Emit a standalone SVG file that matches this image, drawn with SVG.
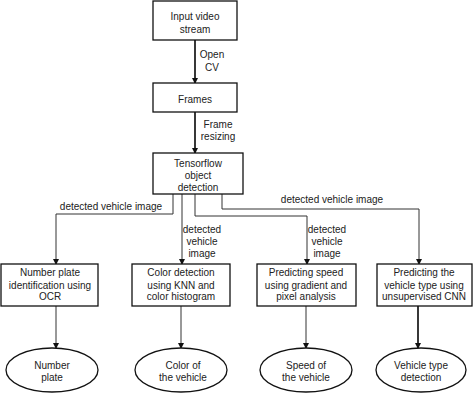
<svg xmlns="http://www.w3.org/2000/svg" width="474" height="411" viewBox="0 0 474 411">
<style>
.box{fill:#fff;stroke:#111;stroke-width:1.3}
.t{font-family:"Liberation Sans",Arial,sans-serif;font-size:10px;fill:#222;text-anchor:middle}
.c{fill:none;stroke:#333;stroke-width:1}
.ct{fill:none;stroke:#222;stroke-width:1.8}
</style>
<defs>
<marker id="ah" markerWidth="6" markerHeight="6" refX="5" refY="3" orient="auto" markerUnits="userSpaceOnUse">
<path d="M0,0 L6,3 L0,6 Z" fill="#111"/>
</marker>
</defs>
<rect width="474" height="411" fill="#fff"/>
<g id="connectors">
<path class="ct" d="M195,40 V83" marker-end="url(#ah)"/>
<path class="ct" d="M195,112 V153" marker-end="url(#ah)"/>
<path class="c" d="M173,194 V214 H56 V264" marker-end="url(#ah)"/>
<path class="c" d="M182,194 V264" marker-end="url(#ah)"/>
<path class="c" d="M195,194 V216 H307 V264" marker-end="url(#ah)"/>
<path class="c" d="M222,194 V209 H419 V264" marker-end="url(#ah)"/>
<path class="c" d="M56,306 V348" marker-end="url(#ah)"/>
<path class="c" d="M181,306 V348" marker-end="url(#ah)"/>
<path class="c" d="M306,306 V348" marker-end="url(#ah)"/>
<path class="ct" d="M418,306 V348" marker-end="url(#ah)"/>
<text class="t" x="212" y="57.5">Open</text>
<text class="t" x="212" y="70.5">CV</text>
<text class="t" x="218" y="127.5">Frame</text>
<text class="t" x="218" y="139.5">resizing</text>
<text class="t" x="111" y="209.5">detected vehicle image</text>
<text class="t" x="332" y="202.5">detected vehicle image</text>
<text class="t" x="202" y="232.5">detected</text>
<text class="t" x="202" y="244.5">vehicle</text>
<text class="t" x="202" y="256.5">image</text>
<text class="t" x="327" y="232.5">detected</text>
<text class="t" x="327" y="244.5">vehicle</text>
<text class="t" x="327" y="256.5">image</text>
</g>
<g id="input">
<rect class="box" x="153" y="1" width="84" height="39"/>
<text class="t" x="195" y="19.5">Input video</text>
<text class="t" x="195" y="32.5">stream</text>
</g>
<g id="frames">
<rect class="box" x="153" y="83" width="84" height="29"/>
<text class="t" x="195" y="102.5">Frames</text>
</g>
<g id="tensorflow">
<rect class="box" x="153" y="153" width="90" height="41"/>
<text class="t" x="198" y="166.5">Tensorflow</text>
<text class="t" x="198" y="178.5">object</text>
<text class="t" x="198" y="190.5">detection</text>
</g>
<g id="ocr">
<rect class="box" x="1" y="264" width="97" height="42"/>
<text class="t" x="50" y="276">Number plate</text>
<text class="t" x="50" y="288.5">identification using</text>
<text class="t" x="50" y="300">OCR</text>
</g>
<g id="color">
<rect class="box" x="132" y="264" width="98" height="42"/>
<text class="t" x="181" y="276">Color detection</text>
<text class="t" x="181" y="288.5">using KNN and</text>
<text class="t" x="181" y="300">color histogram</text>
</g>
<g id="speed">
<rect class="box" x="257" y="264" width="99" height="42"/>
<text class="t" x="306" y="276">Predicting speed</text>
<text class="t" x="306" y="288.5">using gradient and</text>
<text class="t" x="306" y="300">pixel analysis</text>
</g>
<g id="type">
<rect class="box" x="377" y="264" width="95" height="42"/>
<text class="t" x="424" y="276">Predicting the</text>
<text class="t" x="424" y="288.5">vehicle type using</text>
<text class="t" x="424" y="300">unsupervised CNN</text>
</g>
<g id="plate">
<ellipse class="box" cx="52" cy="370" rx="46" ry="22"/>
<text class="t" x="52" y="368.5">Number</text>
<text class="t" x="52" y="380.5">plate</text>
</g>
<g id="colorout">
<ellipse class="box" cx="181" cy="370" rx="46" ry="22"/>
<text class="t" x="183" y="368.5">Color of</text>
<text class="t" x="183" y="380.5">the vehicle</text>
</g>
<g id="speedout">
<ellipse class="box" cx="306" cy="370" rx="46" ry="22"/>
<text class="t" x="306" y="368.5">Speed of</text>
<text class="t" x="306" y="380.5">the vehicle</text>
</g>
<g id="typeout">
<ellipse class="box" cx="421" cy="370" rx="45" ry="22"/>
<text class="t" x="421" y="368.5">Vehicle type</text>
<text class="t" x="421" y="380.5">detection</text>
</g>
</svg>
